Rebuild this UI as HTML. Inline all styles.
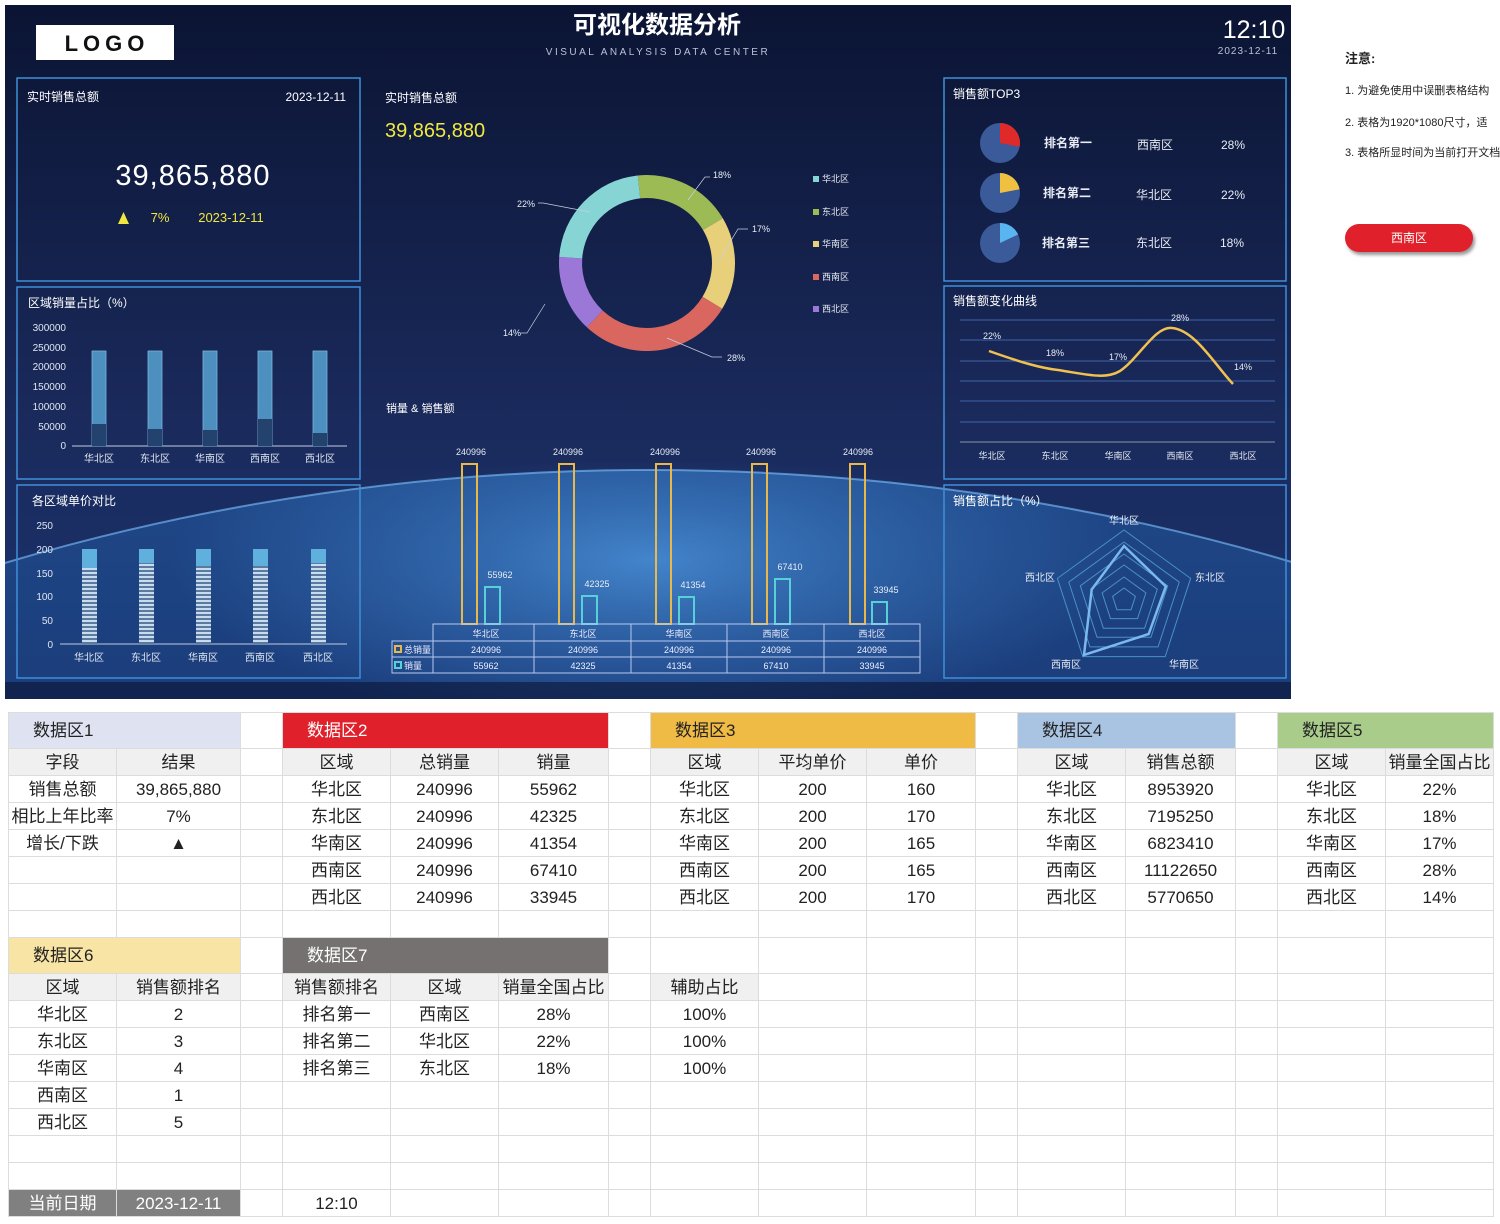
<!DOCTYPE html>
<html><head><meta charset="utf-8"><style>
*{margin:0;padding:0;box-sizing:border-box}
body{width:1500px;height:1224px;background:#fff;position:relative;overflow:hidden;font-family:"Liberation Sans","Noto Sans CJK SC",sans-serif}
svg text{font-family:"Liberation Sans","Noto Sans CJK SC",sans-serif}
.note{position:absolute;left:1345px;font-size:11px;color:#222;white-space:nowrap}
table{position:absolute;left:8px;top:712px;border-collapse:collapse;table-layout:fixed;font-size:17px;color:#222}
td{border:1px solid #dcdcdc;text-align:center;height:27px;max-height:27px;line-height:25px;padding:0;white-space:nowrap;overflow:hidden}
tr.h td{height:36px;line-height:34px}
td.t{text-align:left;padding-left:24px}
.g{background:#f0f0f0}
</style></head><body>
<svg width="1500" height="700" style="position:absolute;left:0;top:0">
<defs>
<clipPath id="dash"><rect x="5" y="5" width="1286" height="694"/></clipPath>
<linearGradient id="bg" x1="0" y1="0" x2="0" y2="1"><stop offset="0" stop-color="#0b1433"/><stop offset="0.6" stop-color="#1a2a5c"/><stop offset="1" stop-color="#1b3470"/></linearGradient>
<linearGradient id="earth" x1="0" y1="0" x2="0" y2="1"><stop offset="0" stop-color="#1f4888"/><stop offset="0.1" stop-color="#1a3a78"/><stop offset="1" stop-color="#142a5a"/></linearGradient>
<radialGradient id="hl" cx="0.5" cy="0.5" r="0.5"><stop offset="0" stop-color="#4a90d8" stop-opacity="0.85"/><stop offset="0.6" stop-color="#3a78c0" stop-opacity="0.4"/><stop offset="1" stop-color="#3a78c0" stop-opacity="0"/></radialGradient>
<radialGradient id="glow" cx="0.5" cy="1" r="0.6"><stop offset="0" stop-color="#4a9ae8" stop-opacity="0.5"/><stop offset="1" stop-color="#4a9ae8" stop-opacity="0"/></radialGradient>
<clipPath id="earthclip"><ellipse cx="650" cy="1870" rx="1800" ry="1400"/></clipPath>
<pattern id="stripe" width="4" height="4" patternUnits="userSpaceOnUse"><rect width="4" height="4" fill="#5c7aa0"/><rect width="4" height="2" fill="#c8dcef"/></pattern>
</defs>
<g clip-path="url(#dash)">
<rect x="5" y="5" width="1286" height="694" fill="url(#bg)"/>
<ellipse cx="650" cy="480" rx="420" ry="100" fill="url(#glow)"/>
<ellipse cx="650" cy="1870" rx="1800" ry="1400" fill="url(#earth)"/>
<g clip-path="url(#earthclip)"><ellipse cx="650" cy="560" rx="480" ry="170" fill="url(#hl)"/></g>
<ellipse cx="650" cy="1870" rx="1800" ry="1400" fill="none" stroke="#7ec4ff" stroke-opacity="0.6" stroke-width="2"/>
<rect x="5" y="682" width="1286" height="17" fill="#0b1433" opacity="0.6"/>
</g>
<!-- header -->
<rect x="36" y="25" width="138" height="35" fill="#fff"/>
<text x="107" y="51" font-size="22" font-weight="bold" text-anchor="middle" letter-spacing="5" fill="#111">LOGO</text>
<text x="657" y="33" font-size="24" font-weight="bold" text-anchor="middle" fill="#fff">可视化数据分析</text>
<text x="658" y="55" font-size="10" text-anchor="middle" letter-spacing="2.5" fill="#b8c2d8">VISUAL ANALYSIS DATA CENTER</text>
<text x="1254" y="38" font-size="25" text-anchor="middle" fill="#fff">12:10</text>
<text x="1248" y="54" font-size="10" text-anchor="middle" letter-spacing="1" fill="#b8c2d8">2023-12-11</text>
<g fill="none" stroke="#3f8fd8" stroke-width="1.5">
<rect x="17" y="78" width="343" height="203"/><rect x="17" y="287" width="343" height="192"/><rect x="17" y="485" width="343" height="193"/>
<rect x="944" y="78" width="342" height="203"/><rect x="944" y="286" width="342" height="193"/><rect x="944" y="485" width="342" height="193"/>
</g>
<!-- panel 1 -->
<text x="27" y="101" font-size="12" fill="#fff">实时销售总额</text>
<text x="346" y="101" font-size="12" fill="#fff" text-anchor="end">2023-12-11</text>
<text x="193" y="185" font-size="29" fill="#fff" text-anchor="middle" letter-spacing="1">39,865,880</text>
<polygon points="118,224 129,224 123.5,212" fill="#f0e840"/>
<text x="160" y="222" font-size="13" fill="#f0e840" text-anchor="middle">7%</text>
<text x="231" y="222" font-size="13" fill="#f0e840" text-anchor="middle">2023-12-11</text>
<!-- panel 2 -->
<text x="28" y="307" font-size="12" fill="#fff">区域销量占比（%）</text>
<g font-size="10" fill="#e0e6f0" text-anchor="end">
<text x="66" y="331">300000</text><text x="66" y="351">250000</text><text x="66" y="370">200000</text><text x="66" y="390">150000</text><text x="66" y="410">100000</text><text x="66" y="430">50000</text><text x="66" y="449">0</text></g>
<line x1="72" y1="446" x2="347" y2="446" stroke="#c0cce0"/>
<g fill="#4d8fbf" stroke="#7ab4dc" stroke-width="0.8">
<rect x="92" y="351" width="14" height="95"/><rect x="148" y="351" width="14" height="95"/><rect x="203" y="351" width="14" height="95"/><rect x="258" y="351" width="14" height="95"/><rect x="313" y="351" width="14" height="95"/></g>
<g fill="#23426e"><rect x="92" y="424" width="14" height="22"/><rect x="148" y="429" width="14" height="17"/><rect x="203" y="430" width="14" height="16"/><rect x="258" y="419" width="14" height="27"/><rect x="313" y="433" width="14" height="13"/></g>
<g font-size="10" fill="#e0e6f0" text-anchor="middle"><text x="99" y="462">华北区</text><text x="155" y="462">东北区</text><text x="210" y="462">华南区</text><text x="265" y="462">西南区</text><text x="320" y="462">西北区</text></g>
<!-- panel 3 -->
<text x="32" y="505" font-size="12" fill="#fff">各区域单价对比</text>
<g font-size="10" fill="#e0e6f0" text-anchor="end"><text x="53" y="529">250</text><text x="53" y="553">200</text><text x="53" y="577">150</text><text x="53" y="600">100</text><text x="53" y="624">50</text><text x="53" y="648">0</text></g>
<line x1="60" y1="644" x2="347" y2="644" stroke="#c0cce0"/>
<g fill="#5fb0dc"><rect x="82" y="549" width="15" height="95"/><rect x="139" y="549" width="15" height="95"/><rect x="196" y="549" width="15" height="95"/><rect x="253" y="549" width="15" height="95"/><rect x="311" y="549" width="15" height="95"/></g>
<g fill="url(#stripe)"><rect x="82" y="568" width="15" height="76"/><rect x="139" y="563" width="15" height="81"/><rect x="196" y="566" width="15" height="78"/><rect x="253" y="566" width="15" height="78"/><rect x="311" y="563" width="15" height="81"/></g>
<g font-size="10" fill="#e0e6f0" text-anchor="middle"><text x="89" y="661">华北区</text><text x="146" y="661">东北区</text><text x="203" y="661">华南区</text><text x="260" y="661">西南区</text><text x="318" y="661">西北区</text></g>
<!-- center -->
<text x="385" y="102" font-size="12" fill="#fff">实时销售总额</text>
<text x="385" y="137" font-size="20" fill="#f0e840">39,865,880</text>
<path d="M637.8,175.5 A88,88 0 0 1 722.8,218.3 L703,230 A65,65 0 0 0 640.2,198.4Z" fill="#9dbb55"/>
<path d="M722.8,218.3 A88,88 0 0 1 722.2,308.7 L702.5,296.8 A65,65 0 0 0 703,230Z" fill="#e8d07a"/>
<path d="M722.2,308.7 A88,88 0 0 1 586.9,327.3 L602.6,310.5 A65,65 0 0 0 702.5,296.8Z" fill="#d9675f"/>
<path d="M586.9,327.3 A88,88 0 0 1 559.2,256.9 L582.2,258.5 A65,65 0 0 0 602.6,310.5Z" fill="#9b77d8"/>
<path d="M559.2,256.9 A88,88 0 0 1 637.8,175.5 L640.2,198.4 A65,65 0 0 0 582.2,258.5Z" fill="#86d4d4"/>
<g stroke="#c8d0e0" stroke-width="0.7" fill="none"><polyline points="688,200 705,177 710,177"/><polyline points="718,262 738,229 748,229"/><polyline points="667,338 712,357 722,357"/><polyline points="545,304 527,333 521,333"/><polyline points="590,212 543,203 538,203"/></g>
<g font-size="9" fill="#e8ecf4"><text x="713" y="178">18%</text><text x="752" y="232">17%</text><text x="727" y="361">28%</text><text x="503" y="336">14%</text><text x="517" y="207">22%</text></g>
<g font-size="9" fill="#e8ecf4"><rect x="813" y="176" width="6" height="6" fill="#86d4d4"/><text x="822" y="182">华北区</text>
<rect x="813" y="209" width="6" height="6" fill="#9dbb55"/><text x="822" y="215">东北区</text>
<rect x="813" y="241" width="6" height="6" fill="#e8d07a"/><text x="822" y="247">华南区</text>
<rect x="813" y="274" width="6" height="6" fill="#d9675f"/><text x="822" y="280">西南区</text>
<rect x="813" y="306" width="6" height="6" fill="#9b77d8"/><text x="822" y="312">西北区</text></g>
<text x="386" y="412" font-size="11" fill="#fff">销量 &amp; 销售额</text>
<g fill="none" stroke="#e8b84a" stroke-width="2"><rect x="462" y="464" width="15" height="160"/><rect x="559" y="464" width="15" height="160"/><rect x="656" y="464" width="15" height="160"/><rect x="752" y="464" width="15" height="160"/><rect x="850" y="464" width="15" height="160"/></g>
<g fill="none" stroke="#58d0d8" stroke-width="2"><rect x="485" y="587" width="15" height="37"/><rect x="582" y="596" width="15" height="28"/><rect x="679" y="597" width="15" height="27"/><rect x="775" y="579" width="15" height="45"/><rect x="872" y="602" width="15" height="22"/></g>
<g font-size="9" fill="#e8ecf4" text-anchor="middle"><text x="471" y="455">240996</text><text x="568" y="455">240996</text><text x="665" y="455">240996</text><text x="761" y="455">240996</text><text x="858" y="455">240996</text>
<text x="500" y="578">55962</text><text x="597" y="587">42325</text><text x="693" y="588">41354</text><text x="790" y="570">67410</text><text x="886" y="593">33945</text></g>
<g stroke="#b8c8f0" stroke-width="1" fill="none"><rect x="392" y="641" width="528" height="32"/><rect x="433" y="624" width="487" height="49"/><line x1="392" y1="657" x2="920" y2="657"/><line x1="433" y1="641" x2="920" y2="641"/>
<line x1="534" y1="624" x2="534" y2="673"/><line x1="631" y1="624" x2="631" y2="673"/><line x1="727" y1="624" x2="727" y2="673"/><line x1="824" y1="624" x2="824" y2="673"/></g>
<g font-size="9" fill="#eef" text-anchor="middle"><text x="486" y="637">华北区</text><text x="583" y="637">东北区</text><text x="679" y="637">华南区</text><text x="776" y="637">西南区</text><text x="872" y="637">西北区</text>
<text x="486" y="653">240996</text><text x="583" y="653">240996</text><text x="679" y="653">240996</text><text x="776" y="653">240996</text><text x="872" y="653">240996</text>
<text x="486" y="669">55962</text><text x="583" y="669">42325</text><text x="679" y="669">41354</text><text x="776" y="669">67410</text><text x="872" y="669">33945</text></g>
<rect x="395" y="646" width="6" height="6" fill="none" stroke="#e8b84a" stroke-width="2"/><text x="404" y="653" font-size="9" fill="#eef">总销量</text>
<rect x="395" y="662" width="6" height="6" fill="none" stroke="#58d0d8" stroke-width="2"/><text x="404" y="669" font-size="9" fill="#eef">销量</text>
<!-- TOP3 -->
<text x="953" y="98" font-size="12" fill="#fff">销售额TOP3</text>
<circle cx="1000" cy="143" r="20" fill="#3a5a9a"/><path d="M1000,143 L1000,123 A20,20 0 0 1 1019.6,146.7Z" fill="#e02a2a"/>
<circle cx="1000" cy="193" r="20" fill="#3a5a9a"/><path d="M1000,193 L1000,173 A20,20 0 0 1 1019.6,189.3Z" fill="#f0c040"/>
<circle cx="1000" cy="243" r="20" fill="#3a5a9a"/><path d="M1000,243 L1000,223 A20,20 0 0 1 1018.1,234.5Z" fill="#5ab4f0"/>
<g font-size="12" fill="#e8ecf4" text-anchor="middle"><text x="1068" y="147" font-weight="bold">排名第一</text><text x="1067" y="197" font-weight="bold">排名第二</text><text x="1066" y="247" font-weight="bold">排名第三</text>
<text x="1155" y="149">西南区</text><text x="1154" y="199">华北区</text><text x="1154" y="247">东北区</text>
<text x="1233" y="149">28%</text><text x="1233" y="199">22%</text><text x="1232" y="247">18%</text></g>
<!-- curve -->
<text x="953" y="305" font-size="12" fill="#fff">销售额变化曲线</text>
<g stroke="#3f64a8" stroke-width="1"><line x1="960" y1="320" x2="1275" y2="320"/><line x1="960" y1="340" x2="1275" y2="340"/><line x1="960" y1="361" x2="1275" y2="361"/><line x1="960" y1="381" x2="1275" y2="381"/><line x1="960" y1="401" x2="1275" y2="401"/><line x1="960" y1="422" x2="1275" y2="422"/></g>
<line x1="960" y1="442" x2="1275" y2="442" stroke="#8a94a8"/>
<path d="M989,351 C1020,362 1040,368 1058,370 C1085,374 1105,380 1120,371 C1140,357 1155,326 1172,328 C1195,330 1215,365 1233,384" fill="none" stroke="#f0c050" stroke-width="2.5"/>
<g font-size="9" fill="#e8ecf4" text-anchor="middle"><text x="992" y="339">22%</text><text x="1055" y="356">18%</text><text x="1118" y="360">17%</text><text x="1180" y="321">28%</text><text x="1243" y="370">14%</text>
<text x="992" y="459">华北区</text><text x="1055" y="459">东北区</text><text x="1118" y="459">华南区</text><text x="1180" y="459">西南区</text><text x="1243" y="459">西北区</text></g>
<!-- radar -->
<text x="953" y="505" font-size="12" fill="#fff">销售额占比（%）</text>
<g fill="none" stroke="#4a90c8" stroke-width="1">
<polygon points="1124,530 1190.6,578.4 1165.2,656.6 1082.8,656.6 1057.4,578.4"/>
<polygon points="1124,542 1179.2,582.1 1158.1,646.9 1089.9,646.9 1068.8,582.1"/>
<polygon points="1124,554 1167.7,585.8 1151,637.2 1097,637.2 1080.3,585.8"/>
<polygon points="1124,565 1157.3,589.2 1144.6,628.3 1103.4,628.3 1090.7,589.2"/>
<polygon points="1124,577 1145.9,592.9 1137.5,618.6 1110.5,618.6 1102.1,592.9"/>
<polygon points="1124,588 1135.4,596.3 1131.1,609.7 1116.9,609.7 1112.6,596.3"/></g>
<polygon points="1124,546 1165.8,586.4 1148.7,634 1084,655 1091.7,589.5" fill="none" stroke="#7ab8ee" stroke-width="2.5"/>
<g font-size="10" fill="#e8ecf4" text-anchor="middle"><text x="1124" y="524">华北区</text><text x="1210" y="581">东北区</text><text x="1184" y="668">华南区</text><text x="1066" y="668">西南区</text><text x="1040" y="581">西北区</text></g>
</svg>
<div class="note" style="top:48px;font-size:13px;font-weight:bold">注意:</div>
<div class="note" style="top:82px">1. 为避免使用中误删表格结构</div>
<div class="note" style="top:114px">2. 表格为1920*1080尺寸，适</div>
<div class="note" style="top:144px">3. 表格所显时间为当前打开文档</div>
<div style="position:absolute;left:1345px;top:224px;width:128px;height:28px;border-radius:14px;background:#e0202a;color:#fff;font-size:12px;text-align:center;line-height:28px;box-shadow:2px 3px 3px #999">西南区</div>
<table>
<colgroup><col style="width:108px"><col style="width:124px"><col style="width:42px"><col style="width:108px"><col style="width:108px"><col style="width:110px"><col style="width:42px"><col style="width:108px"><col style="width:108px"><col style="width:109px"><col style="width:42px"><col style="width:108px"><col style="width:110px"><col style="width:42px"><col style="width:108px"><col style="width:108px"></colgroup>
<tr class="h"><td colspan="2" class="t" style="background:#dfe3f1">数据区1</td><td></td><td colspan="3" class="t" style="background:#e0202a;color:#fff">数据区2</td><td></td><td colspan="3" class="t" style="background:#f0bb45">数据区3</td><td></td><td colspan="2" class="t" style="background:#a9c3e3">数据区4</td><td></td><td colspan="2" class="t" style="background:#a9cc8b">数据区5</td></tr>
<tr><td class="g">字段</td><td class="g">结果</td><td></td><td class="g">区域</td><td class="g">总销量</td><td class="g">销量</td><td></td><td class="g">区域</td><td class="g">平均单价</td><td class="g">单价</td><td></td><td class="g">区域</td><td class="g">销售总额</td><td></td><td class="g">区域</td><td class="g">销量全国占比</td></tr>
<tr><td>销售总额</td><td>39,865,880</td><td></td><td>华北区</td><td>240996</td><td>55962</td><td></td><td>华北区</td><td>200</td><td>160</td><td></td><td>华北区</td><td>8953920</td><td></td><td>华北区</td><td>22%</td></tr>
<tr><td>相比上年比率</td><td>7%</td><td></td><td>东北区</td><td>240996</td><td>42325</td><td></td><td>东北区</td><td>200</td><td>170</td><td></td><td>东北区</td><td>7195250</td><td></td><td>东北区</td><td>18%</td></tr>
<tr><td>增长/下跌</td><td>▲</td><td></td><td>华南区</td><td>240996</td><td>41354</td><td></td><td>华南区</td><td>200</td><td>165</td><td></td><td>华南区</td><td>6823410</td><td></td><td>华南区</td><td>17%</td></tr>
<tr><td></td><td></td><td></td><td>西南区</td><td>240996</td><td>67410</td><td></td><td>西南区</td><td>200</td><td>165</td><td></td><td>西南区</td><td>11122650</td><td></td><td>西南区</td><td>28%</td></tr>
<tr><td></td><td></td><td></td><td>西北区</td><td>240996</td><td>33945</td><td></td><td>西北区</td><td>200</td><td>170</td><td></td><td>西北区</td><td>5770650</td><td></td><td>西北区</td><td>14%</td></tr>
<tr><td></td><td></td><td></td><td></td><td></td><td></td><td></td><td></td><td></td><td></td><td></td><td></td><td></td><td></td><td></td><td></td></tr>
<tr class="h"><td colspan="2" class="t" style="background:#f8e4a4">数据区6</td><td></td><td colspan="3" class="t" style="background:#767171;color:#fff">数据区7</td><td></td><td></td><td></td><td></td><td></td><td></td><td></td><td></td><td></td><td></td></tr>
<tr><td class="g">区域</td><td class="g">销售额排名</td><td></td><td class="g">销售额排名</td><td class="g">区域</td><td class="g">销量全国占比</td><td></td><td class="g">辅助占比</td><td></td><td></td><td></td><td></td><td></td><td></td><td></td><td></td></tr>
<tr><td>华北区</td><td>2</td><td></td><td>排名第一</td><td>西南区</td><td>28%</td><td></td><td>100%</td><td></td><td></td><td></td><td></td><td></td><td></td><td></td><td></td></tr>
<tr><td>东北区</td><td>3</td><td></td><td>排名第二</td><td>华北区</td><td>22%</td><td></td><td>100%</td><td></td><td></td><td></td><td></td><td></td><td></td><td></td><td></td></tr>
<tr><td>华南区</td><td>4</td><td></td><td>排名第三</td><td>东北区</td><td>18%</td><td></td><td>100%</td><td></td><td></td><td></td><td></td><td></td><td></td><td></td><td></td></tr>
<tr><td>西南区</td><td>1</td><td></td><td></td><td></td><td></td><td></td><td></td><td></td><td></td><td></td><td></td><td></td><td></td><td></td><td></td></tr>
<tr><td>西北区</td><td>5</td><td></td><td></td><td></td><td></td><td></td><td></td><td></td><td></td><td></td><td></td><td></td><td></td><td></td><td></td></tr>
<tr><td></td><td></td><td></td><td></td><td></td><td></td><td></td><td></td><td></td><td></td><td></td><td></td><td></td><td></td><td></td><td></td></tr>
<tr><td></td><td></td><td></td><td></td><td></td><td></td><td></td><td></td><td></td><td></td><td></td><td></td><td></td><td></td><td></td><td></td></tr>
<tr><td style="background:#808080;color:#fff">当前日期</td><td style="background:#808080;color:#fff">2023-12-11</td><td></td><td>12:10</td><td></td><td></td><td></td><td></td><td></td><td></td><td></td><td></td><td></td><td></td><td></td><td></td></tr>
</table>
</body></html>
